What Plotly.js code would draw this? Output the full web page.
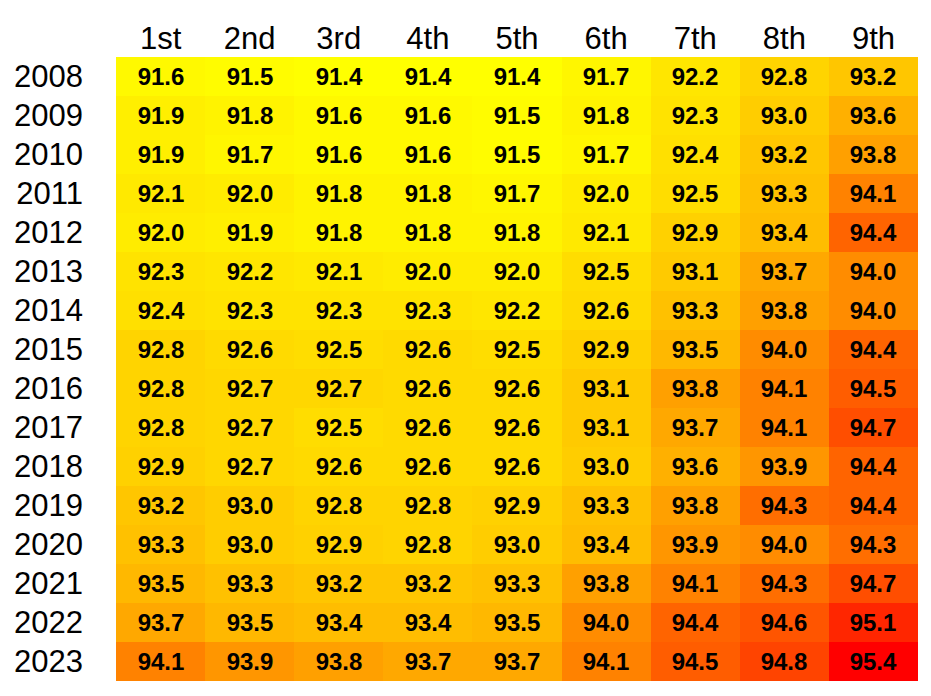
<!DOCTYPE html>
<html>
<head>
<meta charset="utf-8">
<script src="https://cdn.plot.ly/plotly-3.0.1.min.js"></script>
<style>
  html, body { margin: 0; padding: 0; background: #ffffff; }
  #chart { width: 931px; height: 696px; }
</style>
</head>
<body>
<div id="chart"></div>
<script>
// columns and rows
var deciles = ["1st", "2nd", "3rd", "4th", "5th", "6th", "7th", "8th", "9th"];
var years = ["2008", "2009", "2010", "2011", "2012", "2013", "2014", "2015",
             "2016", "2017", "2018", "2019", "2020", "2021", "2022", "2023"];

// one row of values per year
var v2008 = [91.6, 91.5, 91.4, 91.4, 91.4, 91.7, 92.2, 92.8, 93.2];
var v2009 = [91.9, 91.8, 91.6, 91.6, 91.5, 91.8, 92.3, 93.0, 93.6];
var v2010 = [91.9, 91.7, 91.6, 91.6, 91.5, 91.7, 92.4, 93.2, 93.8];
var v2011 = [92.1, 92.0, 91.8, 91.8, 91.7, 92.0, 92.5, 93.3, 94.1];
var v2012 = [92.0, 91.9, 91.8, 91.8, 91.8, 92.1, 92.9, 93.4, 94.4];
var v2013 = [92.3, 92.2, 92.1, 92.0, 92.0, 92.5, 93.1, 93.7, 94.0];
var v2014 = [92.4, 92.3, 92.3, 92.3, 92.2, 92.6, 93.3, 93.8, 94.0];
var v2015 = [92.8, 92.6, 92.5, 92.6, 92.5, 92.9, 93.5, 94.0, 94.4];
var v2016 = [92.8, 92.7, 92.7, 92.6, 92.6, 93.1, 93.8, 94.1, 94.5];
var v2017 = [92.8, 92.7, 92.5, 92.6, 92.6, 93.1, 93.7, 94.1, 94.7];
var v2018 = [92.9, 92.7, 92.6, 92.6, 92.6, 93.0, 93.6, 93.9, 94.4];
var v2019 = [93.2, 93.0, 92.8, 92.8, 92.9, 93.3, 93.8, 94.3, 94.4];
var v2020 = [93.3, 93.0, 92.9, 92.8, 93.0, 93.4, 93.9, 94.0, 94.3];
var v2021 = [93.5, 93.3, 93.2, 93.2, 93.3, 93.8, 94.1, 94.3, 94.7];
var v2022 = [93.7, 93.5, 93.4, 93.4, 93.5, 94.0, 94.4, 94.6, 95.1];
var v2023 = [94.1, 93.9, 93.8, 93.7, 93.7, 94.1, 94.5, 94.8, 95.4];

var z = [v2008, v2009, v2010, v2011, v2012, v2013, v2014, v2015,
         v2016, v2017, v2018, v2019, v2020, v2021, v2022, v2023];

var font_family = "Liberation Sans, Arial, sans-serif";

// yellow -> orange -> red, stays yellow longer than a straight blend
var heat_scale = [
	[0.000, "rgb(255,255,0)"],
	[0.200, "rgb(255,230,0)"],
	[0.350, "rgb(255,212,0)"],
	[0.450, "rgb(255,198,0)"],
	[0.525, "rgb(255,184,0)"],
	[0.600, "rgb(255,160,0)"],
	[0.675, "rgb(255,130,0)"],
	[0.750, "rgb(255,100,0)"],
	[0.825, "rgb(255,78,0)"],
	[0.925, "rgb(255,38,0)"],
	[1.000, "rgb(255,0,0)"]
];

var trace = {
	type: "heatmap",
	x: deciles,
	y: years,
	z: z,
	zmin: 91.4,
	zmax: 95.4,
	colorscale: heat_scale,
	showscale: false,
	// force black text on every cell (no auto contrast on the dark red ones)
	texttemplate: "<span style='color:#000000'><b>%{z:.1f}</b></span>",
	textfont: { family: font_family, size: 24, color: "#000000" },
	hoverinfo: "skip"
};

var layout = {
	width: 931,
	height: 696,
	margin: { l: 116, r: 13, t: 57, b: 15 },
	paper_bgcolor: "#ffffff",
	plot_bgcolor: "#ffffff",
	font: { family: font_family, color: "#000000" },
	xaxis: {
		type: "category",
		side: "top",
		showgrid: false,
		zeroline: false,
		showline: false,
		ticks: "",
		ticklabelstandoff: 1,
		tickfont: { family: font_family, size: 31, color: "#000000" }
	},
	yaxis: {
		type: "category",
		autorange: "reversed",
		showgrid: false,
		zeroline: false,
		showline: false,
		ticks: "",
		ticklabelstandoff: 32,
		tickfont: { family: font_family, size: 31, color: "#000000" }
	},
	showlegend: false
};

var config = { displayModeBar: false, staticPlot: true };

Plotly.newPlot("chart", [trace], layout, config);
</script>
</body>
</html>
